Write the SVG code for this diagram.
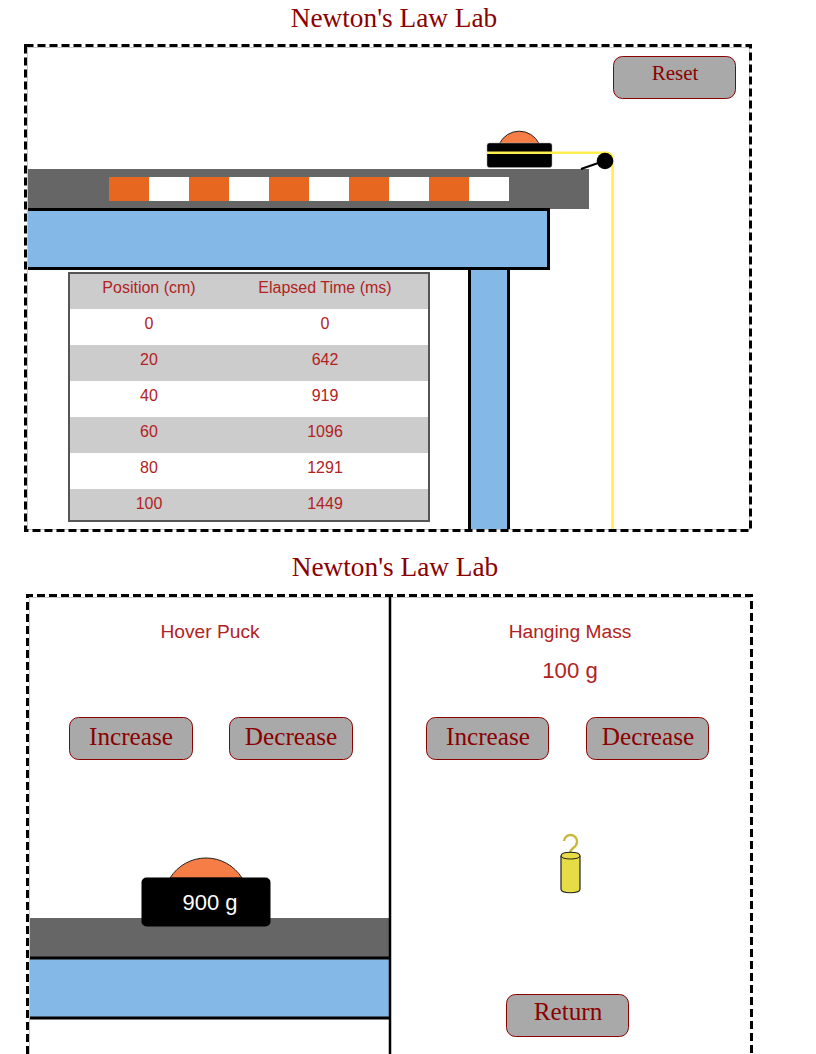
<svg xmlns="http://www.w3.org/2000/svg" width="816" height="1054" viewBox="0 0 816 1054">
<style>
.title{font:27.300px "Liberation Serif",serif;fill:#8b0000;text-anchor:middle}
.btn rect{fill:#a9a9a9;stroke:#8b0000;stroke-width:1}
.btn text{font:25.200px "Liberation Serif",serif;fill:#8b0000;text-anchor:middle}
.t{font:16px "Liberation Sans",Arial,sans-serif;fill:#b22222;text-anchor:middle}
.frame{fill:none;stroke:#000;stroke-width:3;stroke-dasharray:8 4}
.inner{fill:none;stroke:#c8c8c8;stroke-width:1}
.gray{fill:#666}
.blue{fill:#83b8e7}
.edge{fill:none;stroke:#000;stroke-width:3}
.o{fill:#e76720}
.w{fill:#fff}
.dome{fill:#f67d46;stroke:#222;stroke-width:1}
.row{fill:#ccc}
</style>
<rect width="816" height="1054" fill="#fff"/>
<g id="panel-top">
<text class="title" x="394" y="27">Newton's Law Lab</text>
<rect class="inner" x="27.500" y="47.500" width="722" height="482"/>
<g id="track">
<rect class="gray" x="28" y="169" width="561" height="40"/>
<g id="scale">
<rect class="o" x="109" y="177" width="40" height="24"/><rect class="w" x="149" y="177" width="40" height="24"/>
<rect class="o" x="189" y="177" width="40" height="24"/><rect class="w" x="229" y="177" width="40" height="24"/>
<rect class="o" x="269" y="177" width="40" height="24"/><rect class="w" x="309" y="177" width="40" height="24"/>
<rect class="o" x="349" y="177" width="40" height="24"/><rect class="w" x="389" y="177" width="40" height="24"/>
<rect class="o" x="429" y="177" width="40" height="24"/><rect class="w" x="469" y="177" width="40" height="24"/>
</g></g>
<g id="table-leg"><rect class="blue" x="469" y="269" width="40" height="260"/><path class="edge" d="M469.500 269V529M508.500 269V529"/></g>
<g id="table-top"><rect class="blue" x="28" y="209" width="521" height="60"/><path class="edge" d="M28 209.500H548.500V268.500H28"/></g>
<g id="data-table">
<rect x="70" y="274" width="359" height="247" fill="#fff"/>
<rect class="row" x="70" y="274" width="359" height="35"/>
<rect class="row" x="70" y="345" width="359" height="36"/>
<rect class="row" x="70" y="417" width="359" height="36"/>
<rect class="row" x="70" y="489" width="359" height="32"/>
<rect x="69" y="273" width="360" height="248" fill="none" stroke="#555" stroke-width="2"/>
<text class="t" x="149" y="293">Position (cm)</text><text class="t" x="325" y="293">Elapsed Time (ms)</text>
<text class="t" x="149" y="329">0</text><text class="t" x="325" y="329">0</text>
<text class="t" x="149" y="365">20</text><text class="t" x="325" y="365">642</text>
<text class="t" x="149" y="401">40</text><text class="t" x="325" y="401">919</text>
<text class="t" x="149" y="437">60</text><text class="t" x="325" y="437">1096</text>
<text class="t" x="149" y="473">80</text><text class="t" x="325" y="473">1291</text>
<text class="t" x="149" y="509">100</text><text class="t" x="325" y="509">1449</text>
</g>
<g id="puck-top">
<path class="dome" d="M499.500 143.500A22 22 0 0 1 539 143.500Z"/>
<rect x="487" y="143" width="65" height="24.500" rx="2.500" fill="#000" stroke="#aaa" stroke-width="0.500"/>
</g>
<g id="string" fill="none" stroke="#fff04f" stroke-width="2.600">
<path d="M487 152.800H606Q612.600 152.800 612.600 160V529"/>
</g>
<g id="pulley">
<path d="M581 169L604 161" stroke="#000" stroke-width="2" fill="none"/>
<circle cx="605" cy="161" r="8.300" fill="#000"/>
</g>
<g id="btn-reset" class="btn"><rect x="613.500" y="56.500" width="122" height="42" rx="9"/><text x="675" y="80" style="font-size:21px">Reset</text></g>
<rect class="frame" x="25.500" y="45.500" width="725" height="485"/>
</g>
<g id="panel-bottom">
<text class="title" x="395" y="576">Newton's Law Lab</text>
<path class="inner" d="M29.500 1054V597.500H751"/>
<g id="track-2">
<rect class="gray" x="30" y="918" width="360" height="40"/>
<rect class="blue" x="30" y="958.500" width="360" height="59"/>
<path d="M30 958H390M30 1018H390" stroke="#000" stroke-width="3" fill="none"/>
</g>
<path id="divider" d="M390 597V1054" stroke="#000" stroke-width="2.500" fill="none"/>
<path class="frame" d="M27.500 1054V595.500H751.500V1054"/>
<text class="t" x="210" y="638" style="font-size:19.200px">Hover Puck</text>
<text class="t" x="570" y="638" style="font-size:19.200px">Hanging Mass</text>
<text class="t" x="570" y="678" style="font-size:22.200px">100 g</text>
<g id="btn-inc-puck" class="btn"><rect x="69.500" y="717.500" width="123" height="42" rx="9"/><text x="131" y="745">Increase</text></g>
<g id="btn-dec-puck" class="btn"><rect x="229.500" y="717.500" width="123" height="42" rx="9"/><text x="291" y="745">Decrease</text></g>
<g id="btn-inc-mass" class="btn"><rect x="426.500" y="717.500" width="122" height="42" rx="9"/><text x="488" y="745">Increase</text></g>
<g id="btn-dec-mass" class="btn"><rect x="586.500" y="717.500" width="122" height="42" rx="9"/><text x="648" y="745">Decrease</text></g>
<g id="btn-return" class="btn"><rect x="506.500" y="994.500" width="122" height="42" rx="9"/><text x="568" y="1020">Return</text></g>
<g id="puck">
<path class="dome" d="M170 878A42.400 42.400 0 0 1 242 878Z"/>
<rect x="141.500" y="877.500" width="129" height="49" rx="5" fill="#000"/>
<text x="210" y="910" style="font:22px 'Liberation Sans',Arial,sans-serif;fill:#fff;text-anchor:middle">900 g</text>
</g>
<g id="mass">
<path d="M570 853C570 848 577 848 577 842A6.500 6.500 0 0 0 564 841" fill="none" stroke="#c8b93a" stroke-width="2.400"/>
<path d="M561 856C561 851 580 851 580 856V889C580 894 561 894 561 889Z" fill="#e6dc46" stroke="#222" stroke-width="1.200"/>
<path d="M561 856C561 860 580 860 580 856" fill="none" stroke="#222" stroke-width="1"/>
</g>
</g>
</svg>
